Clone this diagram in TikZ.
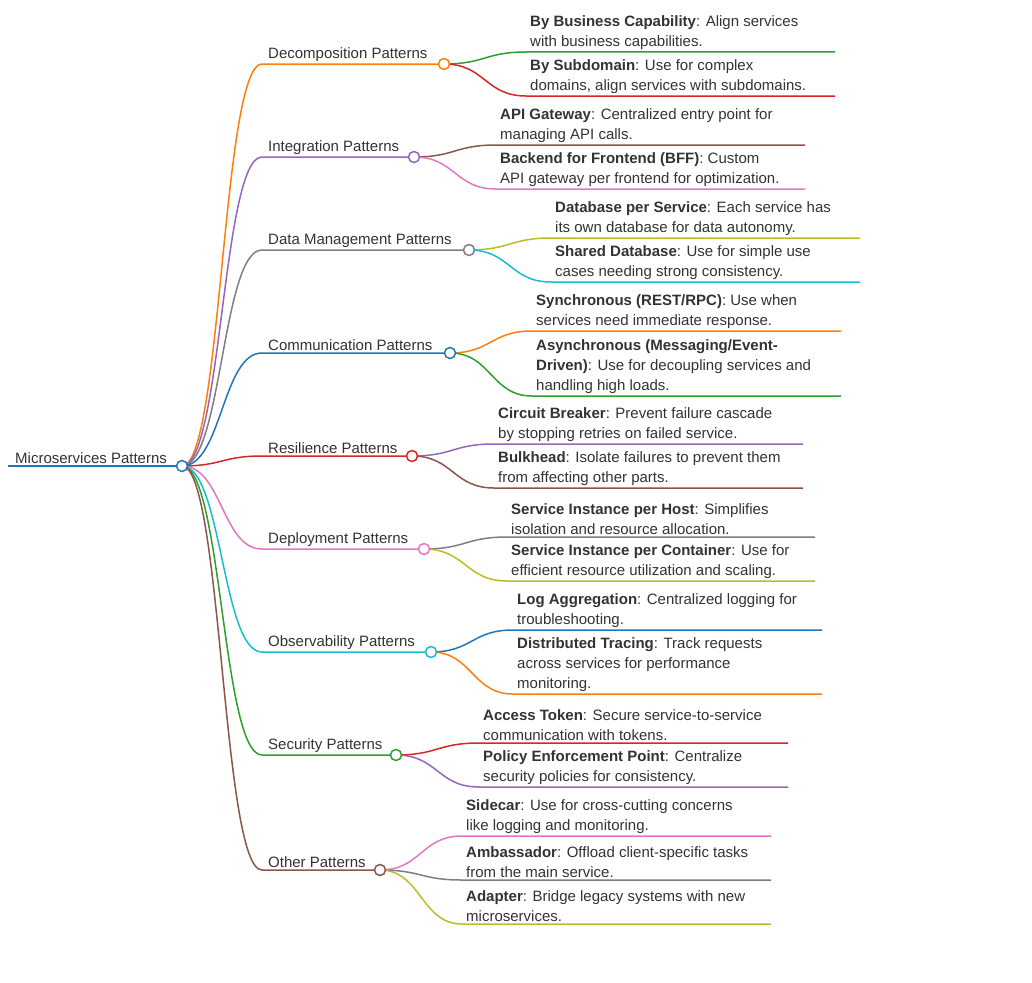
\documentclass[tikz,border=0pt]{standalone}
\usepackage{fontspec}
\setmainfont{Liberation Sans}
\usetikzlibrary{calc}
\definecolor{mblue}{HTML}{1F77B4}
\definecolor{morange}{HTML}{FF7F0E}
\definecolor{mgreen}{HTML}{2CA02C}
\definecolor{mred}{HTML}{D62728}
\definecolor{mpurple}{HTML}{9467BD}
\definecolor{mbrown}{HTML}{8C564B}
\definecolor{mpink}{HTML}{E377C2}
\definecolor{mgray}{HTML}{7F7F7F}
\definecolor{molive}{HTML}{BCBD22}
\definecolor{mcyan}{HTML}{17BECF}
\definecolor{mtext}{HTML}{333333}
\tikzset{
 br/.style={draw=#1, line width=1.5pt},
 dot/.style={circle, draw=#1, fill=white, line width=1.5pt, minimum size=11pt, inner sep=0pt},
 lt/.style={inner sep=0pt, align=left, text=mtext, font=\fontsize{15}{20}\selectfont},
}
\newcommand\mmbranch[5]{%
 \coordinate (#1) at (#3,#4);
 \coordinate (#1s) at (262,#4);
 \draw[br=#2] let \p1=(root),\p2=(#1s) in (\p1) .. controls ({(\x1+\x2)/2},\y1) and ({(\x1+\x2)/2},\y2) .. (\p2) -- (#1);
 \node[lt, anchor=south west] (#1t) at (268,{#4-2}) {#5};}
\newcommand\mmleaf[7]{%
 \coordinate (#2a) at ({#4-4},#5);
 \coordinate (#2b) at (#6,#5);
 \draw[br=#3] let \p1=(#1),\p2=(#2a) in (\p1) .. controls ({(\x1+\x2)/2},\y1) and ({(\x1+\x2)/2},\y2) .. (\p2) -- (#2b);
 \node[lt, anchor=south west] (#2t) at (#4,{#5-2}) {#7};}
\begin{document}
\begin{tikzpicture}[x=1pt,y=-1pt]
\useasboundingbox[fill=white] (0,0) rectangle (1032,982);
\coordinate (root) at (182,466);
\coordinate (rootstart) at (8,466);
\draw[br=mblue] (rootstart) -- (root);
\node[lt, anchor=south west] (roott) at (15,464) {Microservices Patterns};

\mmbranch{d}{morange}{444}{64}{Decomposition Patterns}
\mmbranch{i}{mpurple}{414}{157}{Integration Patterns}
\mmbranch{m}{mgray}{469}{250}{Data Management Patterns}
\mmbranch{c}{mblue}{450}{353}{Communication Patterns}
\mmbranch{r}{mred}{412}{456}{Resilience Patterns}
\mmbranch{p}{mpink}{424}{549}{Deployment Patterns}
\mmbranch{o}{mcyan}{431}{652}{Observability Patterns}
\mmbranch{s}{mgreen}{396}{755}{Security Patterns}
\mmbranch{t}{mbrown}{380}{870}{Other Patterns}

\mmleaf{d}{d1}{mgreen}{530}{52}{835}{\textbf{By Business Capability}: Align services\\with business capabilities.}
\mmleaf{d}{d2}{mred}{530}{96}{835}{\textbf{By Subdomain}: Use for complex\\domains, align services with subdomains.}
\mmleaf{i}{i1}{mbrown}{500}{145}{805}{\textbf{API Gateway}: Centralized entry point for\\managing API calls.}
\mmleaf{i}{i2}{mpink}{500}{189}{805}{\textbf{Backend for Frontend (BFF)}: Custom\\API gateway per frontend for optimization.}
\mmleaf{m}{m1}{molive}{555}{238}{860}{\textbf{Database per Service}: Each service has\\its own database for data autonomy.}
\mmleaf{m}{m2}{mcyan}{555}{282}{860}{\textbf{Shared Database}: Use for simple use\\cases needing strong consistency.}
\mmleaf{c}{c1}{morange}{536}{331}{841}{\textbf{Synchronous (REST/RPC)}: Use when\\services need immediate response.}
\mmleaf{c}{c2}{mgreen}{536}{396}{841}{\textbf{Asynchronous (Messaging/Event-}\\\textbf{Driven)}: Use for decoupling services and\\handling high loads.}
\mmleaf{r}{r1}{mpurple}{498}{444}{803}{\textbf{Circuit Breaker}: Prevent failure cascade\\by stopping retries on failed service.}
\mmleaf{r}{r2}{mbrown}{498}{488}{803}{\textbf{Bulkhead}: Isolate failures to prevent them\\from affecting other parts.}
\mmleaf{p}{p1}{mgray}{511}{537}{815}{\textbf{Service Instance per Host}: Simplifies\\isolation and resource allocation.}
\mmleaf{p}{p2}{molive}{511}{581}{815}{\textbf{Service Instance per Container}: Use for\\efficient resource utilization and scaling.}
\mmleaf{o}{o1}{mblue}{517}{630}{822}{\textbf{Log Aggregation}: Centralized logging for\\troubleshooting.}
\mmleaf{o}{o2}{morange}{517}{694}{822}{\textbf{Distributed Tracing}: Track requests\\across services for performance\\monitoring.}
\mmleaf{s}{s1}{mred}{483}{743}{788}{\textbf{Access Token}: Secure service-to-service\\communication with tokens.}
\mmleaf{s}{s2}{mpurple}{483}{787}{788}{\textbf{Policy Enforcement Point}: Centralize\\security policies for consistency.}
\mmleaf{t}{t1}{mpink}{466}{836}{771}{\textbf{Sidecar}: Use for cross-cutting concerns\\like logging and monitoring.}
\mmleaf{t}{t2}{mgray}{466}{880}{771}{\textbf{Ambassador}: Offload client-specific tasks\\from the main service.}
\mmleaf{t}{t3}{molive}{466}{924}{771}{\textbf{Adapter}: Bridge legacy systems with new\\microservices.}

\foreach \n/\c in {root/mblue,d/morange,i/mpurple,m/mgray,c/mblue,r/mred,p/mpink,o/mcyan,s/mgreen,t/mbrown}
 \node[dot=\c] (\n-dot) at (\n) {};
\end{tikzpicture}
\end{document}
